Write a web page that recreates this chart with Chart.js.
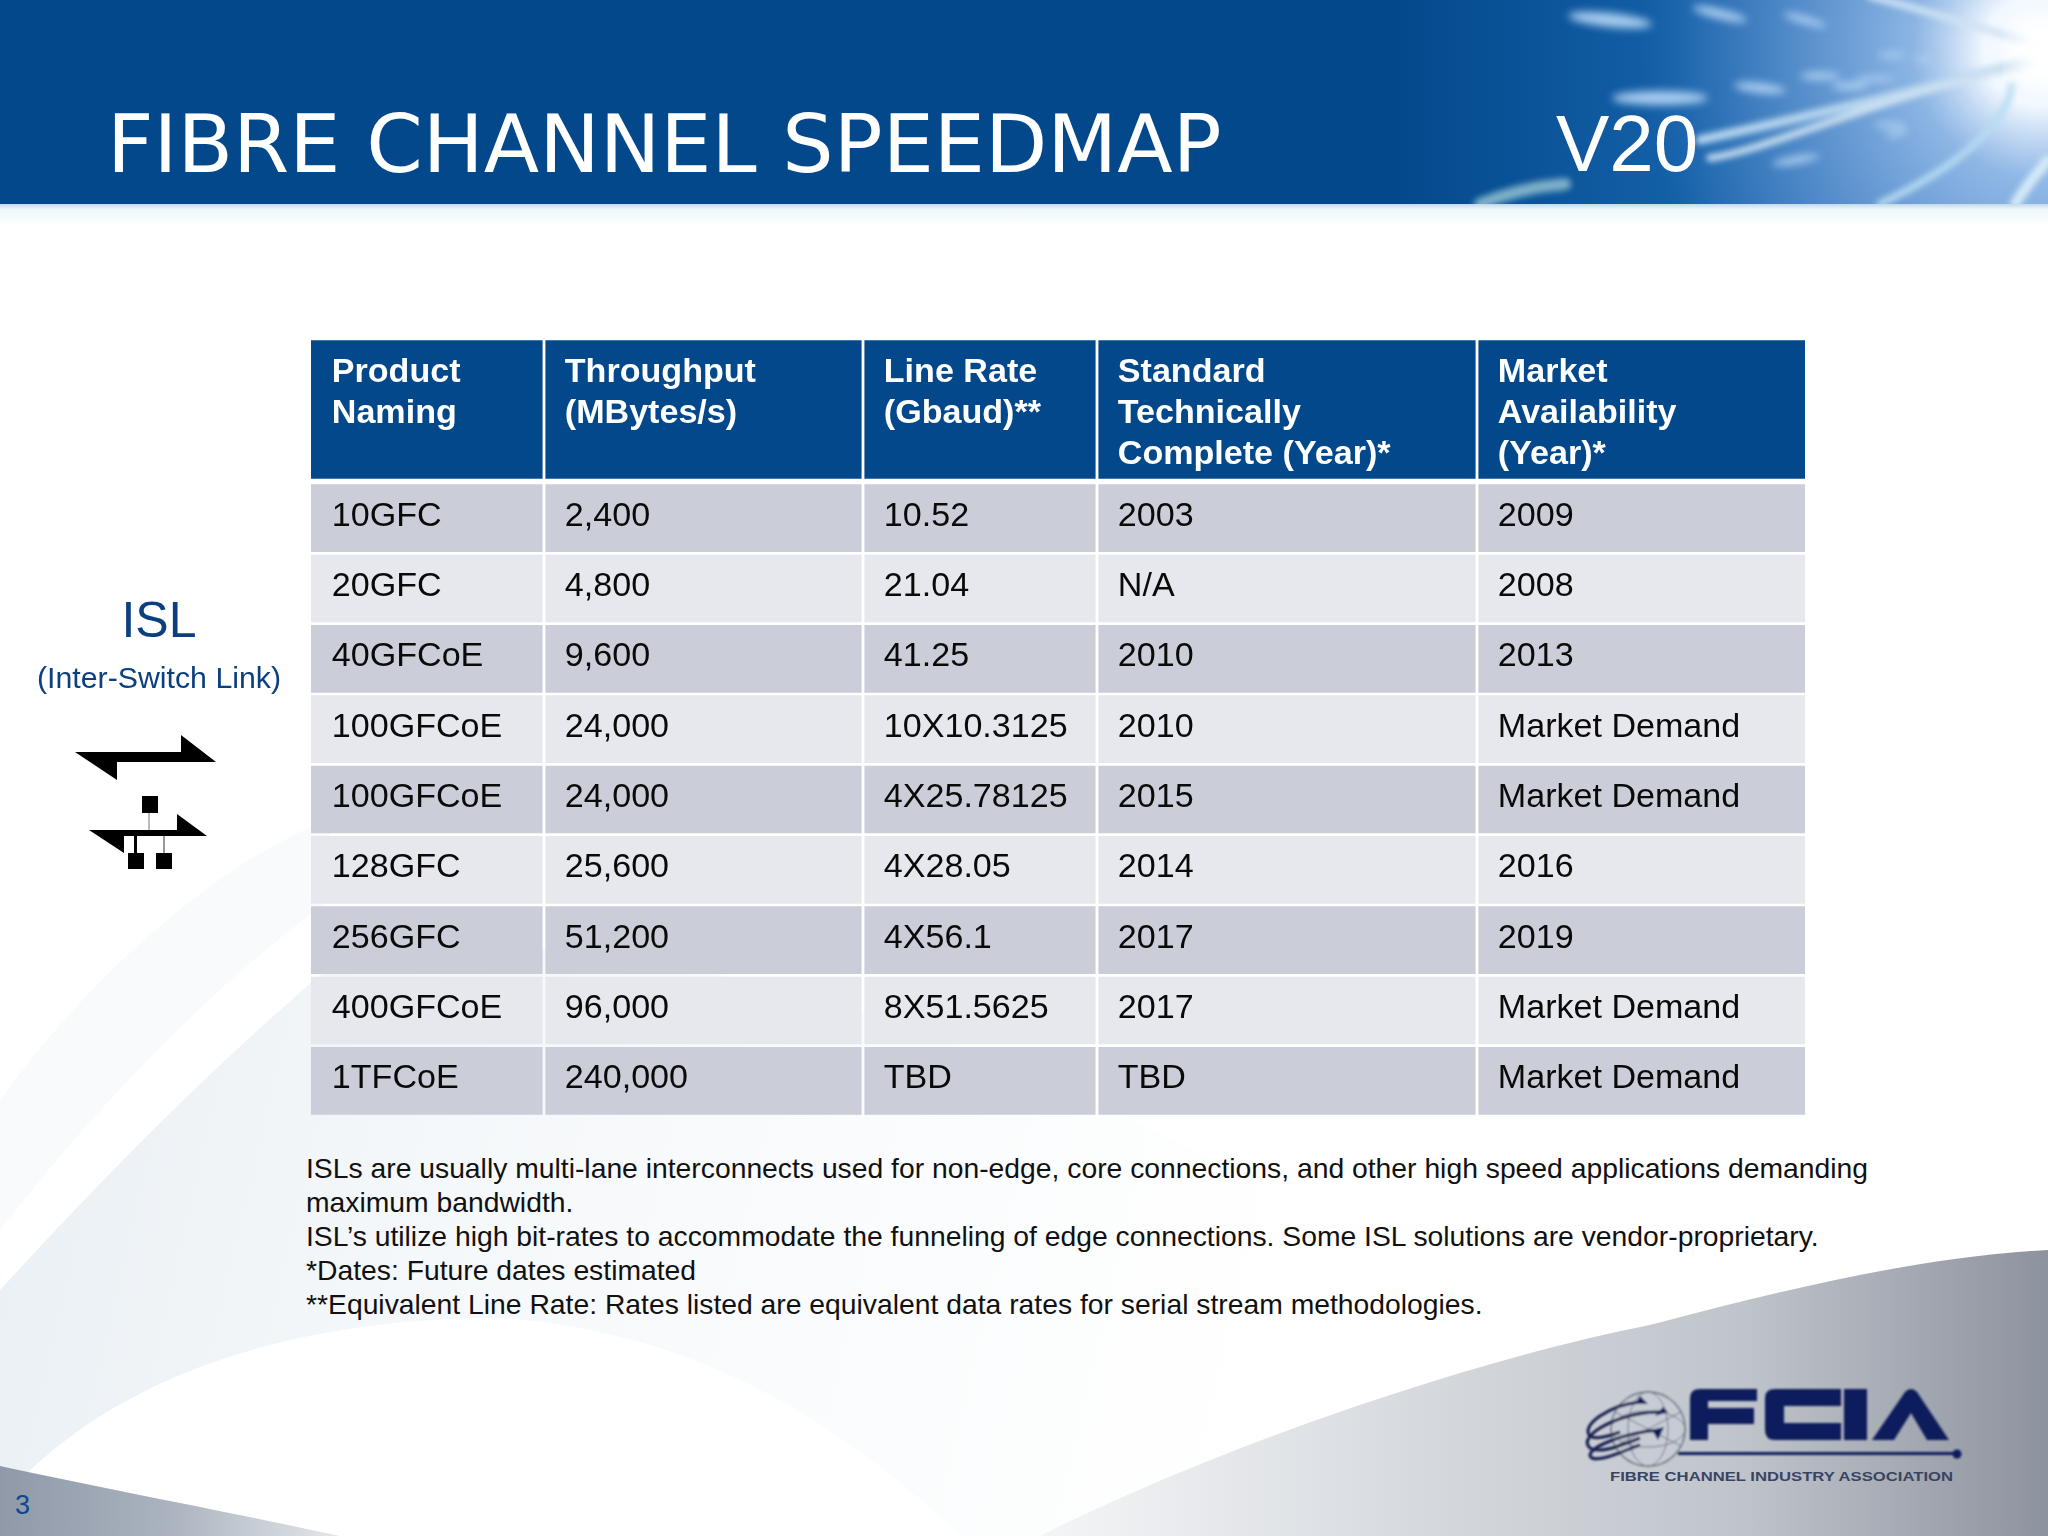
<!DOCTYPE html>
<html>
<head>
<meta charset="utf-8">
<title>Fibre Channel Speedmap</title>
<script src="https://cdn.jsdelivr.net/npm/chart.js@4"></script>
<style>
  html, body { margin: 0; padding: 0; background: #fff; }
  #slide { position: relative; width: 2048px; height: 1536px; overflow: hidden; font-family: "Liberation Sans", sans-serif; }
  #bg { position: absolute; left: 0; top: 0; }
  #table { position: absolute; left: 311px; top: 336px; }
  .t { position: absolute; white-space: nowrap; }
  #title { left: 107px; top: 96px; font: 81px/96px "DejaVu Sans", sans-serif; color: #fff; }
  #ver { left: 1556px; top: 96px; font: 80px/96px "Liberation Sans", sans-serif; color: #fff; }
  #isl { left: 0; width: 318px; top: 590px; text-align: center; font-size: 50px; line-height: 60px; color: #0b3f80; }
  #islsub { left: 0; width: 318px; top: 660px; text-align: center; font-size: 30.3px; line-height: 36px; color: #0b3f80; }
  #notes { left: 306px; top: 1151px; font-size: 28.3px; line-height: 34px; color: #111; }
  #page { left: 15px; top: 1489px; font-size: 27px; line-height: 32px; color: #0b4a90; }
</style>
</head>
<body>
<div id="slide">
  <svg id="bg" width="2048" height="1536" viewBox="0 0 2048 1536">
    <defs>
      <linearGradient id="band" x1="0" y1="0" x2="1" y2="0">
        <stop offset="0" stop-color="#03488b"/><stop offset="0.68" stop-color="#03488b"/>
        <stop offset="0.82" stop-color="#1460a8"/><stop offset="1" stop-color="#6a9ddb"/>
      </linearGradient>
      <linearGradient id="edge" x1="0" y1="0" x2="0" y2="1">
        <stop offset="0" stop-color="#9fc0d8"/><stop offset="0.35" stop-color="#eef7fb"/><stop offset="1" stop-color="#ffffff"/>
      </linearGradient>
      <radialGradient id="flare" gradientUnits="userSpaceOnUse" cx="2040" cy="50" r="400">
        <stop offset="0" stop-color="#fff"/><stop offset="0.14" stop-color="#f2f8ff"/>
        <stop offset="0.32" stop-color="#9cc0ea" stop-opacity="0.8"/><stop offset="1" stop-color="#5b8fd0" stop-opacity="0"/>
      </radialGradient>
      <linearGradient id="grey" gradientUnits="userSpaceOnUse" x1="1040" y1="0" x2="2048" y2="0">
        <stop offset="0" stop-color="#f4f5f7"/><stop offset="0.4" stop-color="#d4d8dd"/>
        <stop offset="0.7" stop-color="#bfc4cb"/><stop offset="1" stop-color="#8d939e"/>
      </linearGradient>
      <linearGradient id="greyL" gradientUnits="userSpaceOnUse" x1="0" y1="0" x2="340" y2="0">
        <stop offset="0" stop-color="#8f99a8"/><stop offset="0.5" stop-color="#aab3bf"/><stop offset="1" stop-color="#e4e7eb"/>
      </linearGradient>
      <linearGradient id="pale" gradientUnits="userSpaceOnUse" x1="0" y1="1000" x2="1300" y2="1300">
        <stop offset="0" stop-color="#e9eff4"/><stop offset="0.35" stop-color="#f5f8fa"/><stop offset="1" stop-color="#ffffff"/>
      </linearGradient>
      <filter id="b2"><feGaussianBlur stdDeviation="3"/></filter>
      <filter id="b4"><feGaussianBlur stdDeviation="4"/></filter>
      <filter id="b12"><feGaussianBlur stdDeviation="12"/></filter>
      <filter id="b1"><feGaussianBlur stdDeviation="1"/></filter>
    </defs>
    <rect width="2048" height="1536" fill="#fff"/>

    <!-- pale swooshes behind the table -->
    <path d="M0 1290 C110 1170 210 1070 320 975 C560 880 1100 1040 1500 1340 L1300 1536 L0 1536 Z" fill="url(#pale)"/>
    <path d="M0 1100 C100 960 240 850 330 820 L330 900 C220 980 110 1090 0 1230 Z" fill="#f8fafb"/>
    <path d="M20 1480 C130 1370 300 1318 500 1318 C690 1330 840 1420 960 1536 L320 1536 Z" fill="#fff"/>
    <path d="M0 1466 C110 1490 220 1510 340 1536 L0 1536 Z" fill="url(#greyL)"/>
    <path d="M1040 1536 C1220 1445 1480 1358 1650 1325 C1800 1285 1930 1256 2048 1250 L2048 1536 Z" fill="url(#grey)"/>

    <!-- title band -->
    <rect x="0" y="200" width="2048" height="26" fill="url(#edge)"/>
    <rect width="2048" height="204" fill="url(#band)"/>
    <g clip-path="url(#clipBand)">
      <clipPath id="clipBand"><rect width="2048" height="204"/></clipPath>
      <rect width="2048" height="204" fill="url(#flare)"/>
      <g fill="#a9cdf0" filter="url(#b4)">
        <ellipse cx="1610" cy="20" rx="42" ry="7" transform="rotate(6 1610 20)"/>
        <ellipse cx="1720" cy="14" rx="28" ry="5" transform="rotate(14 1720 14)"/>
        <ellipse cx="1805" cy="20" rx="22" ry="4" transform="rotate(16 1805 20)"/>
        <ellipse cx="1660" cy="98" rx="48" ry="7"/>
        <ellipse cx="1760" cy="88" rx="26" ry="5" transform="rotate(6 1760 88)"/>
        <ellipse cx="1820" cy="76" rx="20" ry="4"/>
        <ellipse cx="1850" cy="86" rx="18" ry="4"/>
        <ellipse cx="1875" cy="79" rx="20" ry="3"/>
        <ellipse cx="1892" cy="55" rx="14" ry="3"/>
        <ellipse cx="1925" cy="59" rx="12" ry="3"/>
        <ellipse cx="1890" cy="125" rx="16" ry="3"/>
        <ellipse cx="1897" cy="133" rx="12" ry="3" transform="rotate(-15 1897 133)"/>
        <ellipse cx="1796" cy="160" rx="24" ry="4" transform="rotate(-10 1796 160)"/>
      </g>
      <g fill="none" stroke-linecap="round" filter="url(#b2)">
        <path d="M1700 140 C1800 118 1920 90 2040 58" stroke="#b8d6ef" stroke-width="9"/>
        <path d="M1710 158 C1770 150 1880 95 2040 62" stroke="#cfe2f2" stroke-width="7"/>
        <path d="M1480 204 C1510 192 1540 186 1565 184" stroke="#7fb0c8" stroke-width="12"/>
        <path d="M1880 204 C1950 170 2005 130 2012 85" stroke="#b7dcf2" stroke-width="7"/>
        <path d="M2015 204 C2030 180 2040 170 2048 160" stroke="#d8ecf8" stroke-width="10"/>
        <path d="M1870 -4 C1930 12 1990 30 2040 46" stroke="#cfe2f4" stroke-width="7"/>
      </g>
      <circle cx="2044" cy="52" r="34" fill="#fff" filter="url(#b12)"/>
    </g>

    <!-- ISL icon -->
    <g fill="#000">
      <path d="M75 752 L181 752 L181 735 L216 762 L117 762 L117 780 Z"/>
      <rect x="142" y="796" width="16" height="17"/>
      <path d="M89 830 L177 830 L177 814 L207 836 L124 836 L124 853 Z"/>
      <rect x="128" y="853" width="16" height="16"/>
      <rect x="156" y="853" width="16" height="16"/>
      <rect x="134" y="836" width="3" height="17"/>
    </g>
    <rect x="148" y="813" width="2" height="17" fill="#bbb"/>
    <rect x="163" y="836" width="2" height="17" fill="#999"/>

    <!-- FCIA logo -->
    <g filter="url(#b1)">
      <circle cx="1648" cy="1429" r="37" fill="#c7ccd4" stroke="#5f6a7c" stroke-width="1.5"/>
      <g fill="none" stroke="#6c7688" stroke-width="1">
        <ellipse cx="1648" cy="1429" rx="20" ry="37"/><ellipse cx="1648" cy="1429" rx="37" ry="18"/>
        <path d="M1615 1412 L1681 1446 M1615 1446 L1681 1412"/>
      </g>
      <g fill="none" stroke="#141f4d" stroke-width="3">
        <path d="M1640 1402 C1610 1405 1580 1425 1590 1436 C1595 1440 1610 1436 1620 1432"/>
        <path d="M1663 1412 C1625 1410 1575 1435 1590 1448 C1600 1454 1620 1446 1640 1438"/>
        <path d="M1660 1430 C1625 1432 1580 1450 1592 1458 C1602 1462 1625 1450 1640 1445"/>
      </g>
      <g fill="#0f1f5c">
        <path d="M1640 1396 L1635 1404 L1648 1404 Z M1663 1407 L1655 1416 L1668 1412 Z M1664 1427 L1652 1430 L1658 1440 Z"/>
        <path d="M1690 1398 Q1690 1389 1700 1389 L1757 1389 L1757 1401 L1708 1401 L1708 1408 L1754 1408 L1754 1424 L1708 1424 L1708 1440 L1690 1440 Z"/>
        <path d="M1765 1398 Q1765 1389 1775 1389 L1841 1389 L1841 1406 L1784 1406 L1784 1423 L1841 1423 L1841 1440 L1775 1440 Q1765 1440 1765 1430 Z"/>
        <rect x="1844" y="1389" width="23" height="51"/>
        <path d="M1872 1440 L1905 1392 Q1911 1386 1917 1392 L1949 1440 L1927 1440 L1911 1413 L1894 1440 Z"/>
        <rect x="1678" y="1452" width="278" height="3"/>
        <circle cx="1957" cy="1454" r="4.5"/>
      </g>
    </g>
    <text x="1610" y="1481" textLength="343" lengthAdjust="spacingAndGlyphs" font-family="Liberation Sans" font-weight="700" font-size="12" fill="#3a4462">FIBRE CHANNEL INDUSTRY ASSOCIATION</text>
  </svg>

  <canvas id="table" width="1494" height="780"></canvas>

  <div class="t" id="title">FIBRE CHANNEL SPEEDMAP</div>
  <div class="t" id="ver">V20</div>
  <div class="t" id="isl">ISL</div>
  <div class="t" id="islsub">(Inter-Switch Link)</div>
  <div class="t" id="notes"></div>
  <div class="t" id="page">3</div>
</div>

<script>
const headers = [
  ['Product', 'Naming'],
  ['Throughput', '(MBytes/s)'],
  ['Line Rate', '(Gbaud)**'],
  ['Standard', 'Technically', 'Complete (Year)*'],
  ['Market', 'Availability', '(Year)*']
];
const productNaming = ['10GFC', '20GFC', '40GFCoE', '100GFCoE', '100GFCoE', '128GFC', '256GFC', '400GFCoE', '1TFCoE'];
const throughput = ['2,400', '4,800', '9,600', '24,000', '24,000', '25,600', '51,200', '96,000', '240,000'];
const lineRate = ['10.52', '21.04', '41.25', '10X10.3125', '4X25.78125', '4X28.05', '4X56.1', '8X51.5625', 'TBD'];
const standardYear = ['2003', 'N/A', '2010', '2010', '2015', '2014', '2017', '2017', 'TBD'];
const marketYear = ['2009', '2008', '2013', 'Market Demand', 'Market Demand', '2016', '2019', 'Market Demand', 'Market Demand'];
const noteLines = [
  'ISLs are usually multi-lane interconnects used for non-edge, core connections, and other high speed applications demanding',
  'maximum bandwidth.',
  'ISL\u2019s utilize high bit-rates to accommodate the funneling of edge connections. Some ISL solutions are vendor-proprietary.',
  '*Dates: Future dates estimated',
  '**Equivalent Line Rate: Rates listed are equivalent data rates for serial stream methodologies.'
];

document.getElementById('notes').innerHTML = noteLines.join('<br>');

// table layout, in canvas pixels
const columnWidths = [233, 319, 234, 380, 328];
const columns = [productNaming, throughput, lineRate, standardYear, marketYear];
const edges = [0];
columnWidths.forEach(w => edges.push(edges[edges.length - 1] + w));
const gap = 1.75;
const pad = 20.8;

const datasets = [];
columns.forEach((col, c) => {
  const span = [edges[c] + (c ? gap : 0), edges[c + 1] - (c < 4 ? gap : 0)];
  datasets.push({
    label: headers[c].join(' '),
    yAxisID: 'yHead',
    data: [span],
    backgroundColor: '#03488b',
    barThickness: 138,
    grouped: false
  });
  datasets.push({
    label: headers[c].join(' ') + ' rows',
    yAxisID: 'yBody',
    data: col.map(() => span),
    backgroundColor: col.map((v, r) => r % 2 ? '#e7e8ed' : '#cbced8'),
    barThickness: 67,
    grouped: false
  });
});

const cellText = {
  id: 'cellText',
  afterDatasetsDraw(chart) {
    const { ctx, scales } = chart;
    const x = scales.x, head = scales.yHead, body = scales.yBody;
    ctx.save();
    ctx.textBaseline = 'middle';
    ctx.textAlign = 'left';
    ctx.font = 'bold 34.1px "Liberation Sans"';
    ctx.fillStyle = '#ffffff';
    const headTop = head.getPixelForValue(0) - 69;
    headers.forEach((lines, c) => {
      lines.forEach((line, i) => {
        ctx.fillText(line, x.getPixelForValue(edges[c]) + pad, headTop + 32 + i * 41);
      });
    });
    ctx.font = '34.1px "Liberation Sans"';
    ctx.fillStyle = '#0a0a0a';
    columns.forEach((col, c) => {
      col.forEach((v, r) => {
        ctx.fillText(v, x.getPixelForValue(edges[c]) + pad, body.getPixelForValue(r) - 2);
      });
    });
    ctx.restore();
  }
};

const hiddenY = {
  type: 'category',
  position: 'left',
  stack: 'table',
  offset: true,
  ticks: { display: false },
  grid: { display: false, drawTicks: false, tickLength: 0 },
  border: { display: false }
};

new Chart(document.getElementById('table').getContext('2d'), {
  type: 'bar',
  data: { datasets },
  plugins: [cellText],
  options: {
    indexAxis: 'y',
    responsive: false,
    animation: false,
    devicePixelRatio: 1,
    layout: { padding: 0 },
    plugins: { legend: { display: false }, tooltip: { enabled: false } },
    scales: {
      x: { type: 'linear', min: 0, max: edges[edges.length - 1], display: false },
      yBody: { ...hiddenY, labels: productNaming.map((n, r) => r + ' ' + n), stackWeight: 633 },
      yHead: { ...hiddenY, labels: ['Header'], stackWeight: 147 }
    }
  }
});
</script>
</body>
</html>
